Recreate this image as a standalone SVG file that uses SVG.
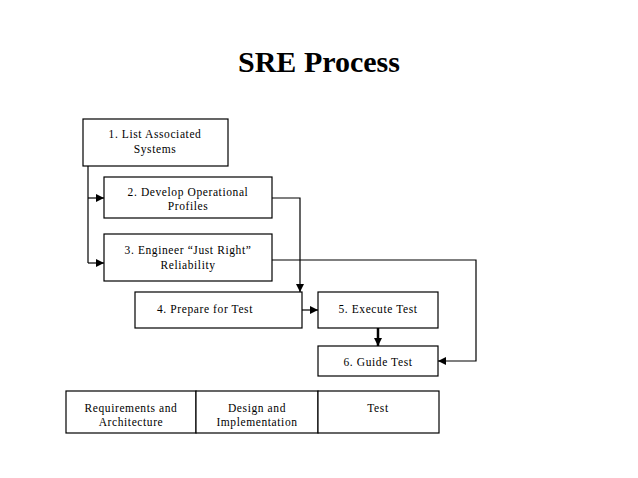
<svg xmlns="http://www.w3.org/2000/svg" width="638" height="478" viewBox="0 0 638 478">
<style>
rect{fill:#fff;stroke:#000;stroke-width:1.2}
text{font-family:"Liberation Serif",serif;font-size:11.5px;text-anchor:middle;letter-spacing:0.6px}
.c{fill:none;stroke:#000;stroke-width:1.2}
</style>
<defs><marker id="a" viewBox="0 0 10 10" refX="10" refY="5" markerWidth="8" markerHeight="8" markerUnits="userSpaceOnUse" orient="auto"><path d="M0,0L10,5L0,10z"/></marker></defs>
<rect x="0" y="0" width="638" height="478" style="stroke:none"/>
<text x="319" y="72" style="font-size:30px;font-weight:bold;letter-spacing:0">SRE Process</text>
<g id="connectors">
<path class="c" d="M88,166V263"/>
<path class="c" d="M88,198H104" marker-end="url(#a)"/>
<path class="c" d="M88,263H104" marker-end="url(#a)"/>
<path class="c" d="M272,198H300V292" marker-end="url(#a)"/>
<path class="c" d="M272,260H476V361H438" marker-end="url(#a)"/>
<path class="c" d="M302,310H318" marker-end="url(#a)"/>
<path class="c" d="M378,328V346" style="stroke-width:2.5" marker-end="url(#a)"/>
</g>
<g id="n1"><rect x="83" y="119" width="145" height="47"/><text x="155" y="138">1. List Associated</text><text x="155" y="153">Systems</text></g>
<g id="n2"><rect x="104" y="177" width="168" height="41"/><text x="188" y="196">2. Develop Operational</text><text x="188" y="210">Profiles</text></g>
<g id="n3"><rect x="104" y="234" width="168" height="47"/><text x="188" y="254">3. Engineer “Just Right”</text><text x="188" y="269">Reliability</text></g>
<g id="n4"><rect x="135" y="292" width="167" height="36"/><text x="205" y="313">4. Prepare for Test</text></g>
<g id="n5"><rect x="318" y="292" width="120" height="36"/><text x="378" y="313">5. Execute Test</text></g>
<g id="n6"><rect x="318" y="346" width="120" height="30"/><text x="378" y="366">6. Guide Test</text></g>
<g id="table">
<rect x="66" y="391" width="130" height="42"/><rect x="196" y="391" width="122" height="42"/><rect x="318" y="391" width="121" height="42"/>
<text x="131" y="412">Requirements and</text><text x="131" y="426">Architecture</text>
<text x="257" y="412">Design and</text><text x="257" y="426">Implementation</text>
<text x="378" y="412">Test</text>
</g>
</svg>
